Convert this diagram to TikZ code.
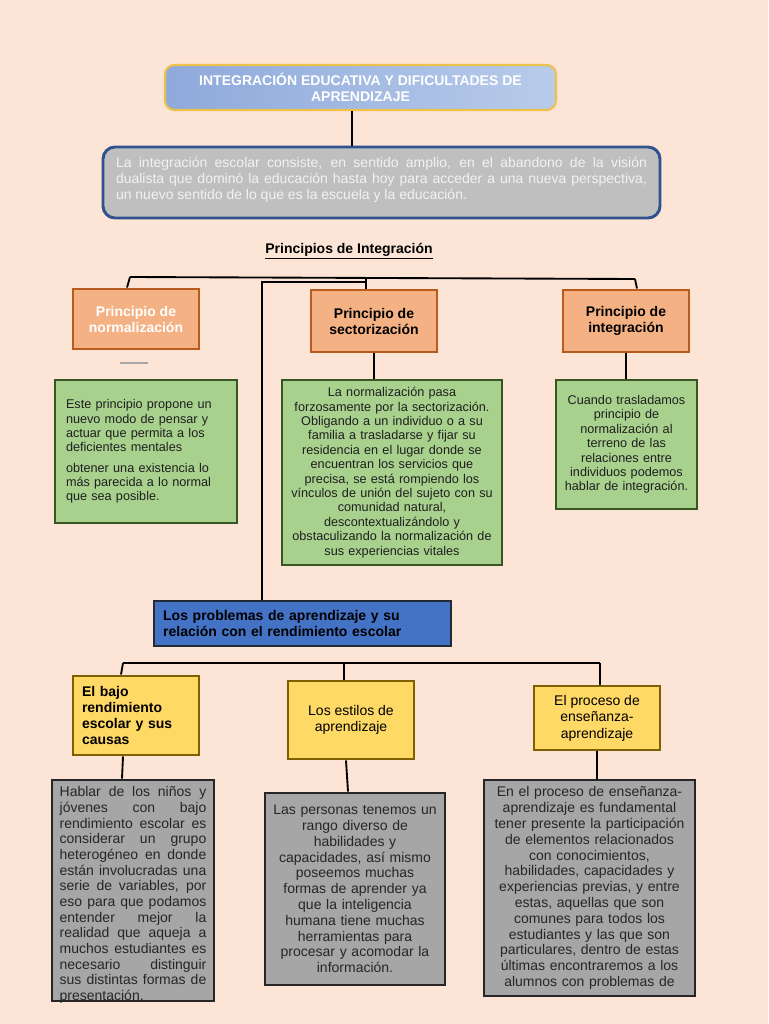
\documentclass[tikz,border=0pt]{standalone}
\usepackage{fontspec}
\setmainfont{Liberation Sans}
\usepackage{xcolor}
\usepackage{tikz}
\definecolor{fondo}{HTML}{FCE4D6}
\definecolor{azulA}{HTML}{8EA9DB}
\definecolor{azulB}{HTML}{B8CBEA}
\definecolor{oro}{HTML}{EDC24A}
\definecolor{introF}{HTML}{BFBFBF}
\definecolor{introB}{HTML}{2F528F}
\definecolor{naranjaF}{HTML}{F4B183}
\definecolor{naranjaB}{HTML}{B85B1C}
\definecolor{verdeF}{HTML}{A9D18E}
\definecolor{verdeB}{HTML}{375623}
\definecolor{azulF}{HTML}{4472C4}
\definecolor{azulBorde}{HTML}{222A35}
\definecolor{amarilloF}{HTML}{FFD966}
\definecolor{amarilloB}{HTML}{7F6000}
\definecolor{grisF}{HTML}{A6A6A6}
\definecolor{grisB}{HTML}{262626}
\hyphenpenalty=10000
\exhyphenpenalty=10000
\tikzset{
  caja/.style={draw, line width=2.2pt, inner sep=0pt},
  naranja/.style={caja, fill=naranjaF, draw=naranjaB, align=center,
    minimum width=94.5pt, font=\bfseries\fontsize{10.5}{12}\selectfont},
  verde/.style={caja, fill=verdeF, draw=verdeB, text=black!88,
    font=\fontsize{9.5}{10.8}\selectfont},
  amarilla/.style={caja, fill=amarilloF, draw=amarilloB, minimum width=94.5pt,
    font=\fontsize{10.5}{12}\selectfont},
  gris/.style={caja, fill=grisF, draw=grisB, text=black!85,
    font=\fontsize{10.5}{11.85}\selectfont},
  linea/.style={line width=1.4pt, black},
}
\begin{document}
\begin{tikzpicture}[x=0.75pt, y=-0.75pt]
  \fill[fondo] (0,0) rectangle (768,1024);
  \useasboundingbox (0,0) rectangle (768,1024);

  \node[caja, rounded corners=7pt, line width=1.6pt, draw=oro, left color=azulA, right color=azulB,
    minimum width=293.25pt, minimum height=33.75pt, text=white, align=center,
    font=\bfseries\fontsize{10.5}{12}\selectfont] (titulo) at (360.5,87.5)
    {INTEGRACIÓN EDUCATIVA Y DIFICULTADES DE\\APRENDIZAJE};
  \node[caja, rounded corners=9pt, fill=introF, draw=introB, minimum width=417.75pt,
    minimum height=53.25pt, text=white!95!black, text width=398.25pt, align=justify,
    font=\fontsize{10.5}{12}\selectfont] (intro) at (381.5,182.5)
    {La integración escolar consiste, en sentido amplio, en el abandono de la visión\linebreak
     dualista que dominó la educación hasta hoy para acceder a una nueva perspectiva,\linebreak
     un nuevo sentido de lo que es la escuela y la educación.\vspace{4pt}};
  \node[font=\bfseries\fontsize{10.5}{12}\selectfont] (principios) at (349,251)
    {\underline{Principios de Integración}};

  \node[naranja, minimum height=45pt, text=white] (norm) at (136,319) {Principio de\\normalización};
  \node[naranja, minimum height=46.5pt] (sect) at (374,321) {Principio de\\sectorización};
  \node[naranja, minimum height=46.5pt] (integ) at (626,321) {Principio de\\integración};
  \draw[gray!70, line width=1pt] (120,363) -- (148,363);

  \node[verde, minimum width=136.5pt, minimum height=107.25pt, text width=120pt, align=left,
    font=\fontsize{9.5}{10.7}\selectfont] (gnorm) at (146,451.5)
    {Este principio propone un\\nuevo modo de pensar y\\actuar que permita a los\\deficientes mentales\\[4.5pt]
     obtener una existencia lo\\más parecida a lo normal\\que sea posible.};
  \node[verde, minimum width=165pt, minimum height=138.75pt, text width=158pt, align=center] (gsect) at (392,472.5)
    {La normalización pasa\\forzosamente por la sectorización.\\Obligando a un individuo o a su\\
     familia a trasladarse y fijar su\\residencia en el lugar donde se\\encuentran los servicios que\\
     precisa, se está rompiendo los\\vínculos de unión del sujeto con su\\comunidad natural,\\
     descontextualizándolo y\\obstaculizando la normalización de\\sus experiencias vitales};
  \node[verde, minimum width=105.75pt, minimum height=96.75pt, text width=100pt, align=center] (ginteg) at (626.5,444.5)
    {Cuando trasladamos\\principio de\\normalización al\\terreno de las\\relaciones entre\\
     individuos podemos\\hablar de integración.};

  \node[caja, fill=azulF, draw=azulBorde, minimum width=222.75pt, minimum height=33.75pt,
    text width=209pt, align=left, font=\bfseries\fontsize{10.5}{12}\selectfont] (problemas) at (302.5,623.5)
    {Los problemas de aprendizaje y su\\relación con el rendimiento escolar};

  \node[amarilla, minimum height=59.25pt, text width=81pt, align=left, font=\bfseries\fontsize{10.5}{12}\selectfont]
    (bajo) at (136,715.5) {El bajo\\rendimiento\\escolar y sus\\causas};
  \node[amarilla, minimum height=58.5pt, align=center] (estilos) at (351,720) {Los estilos de\\aprendizaje};
  \node[amarilla, minimum height=48pt, align=center, font=\fontsize{10.5}{12.4}\selectfont]
    (proceso) at (597,718) {El proceso de\\enseñanza-\\aprendizaje};

  \node[gris, minimum width=121.5pt, minimum height=165.75pt] (gbajo) at (133,890.5) {};
  \begin{scope}
    \clip ([shift={(1.1pt,-1.1pt)}]gbajo.south west) rectangle ([shift={(-1.1pt,1.1pt)}]gbajo.north east);
    \node[inner sep=0pt, anchor=north, text=black!85, text width=110pt, align=justify,
      font=\fontsize{10.5}{11.75}\selectfont] (tbajo) at ([yshift=-6pt]gbajo.north)
      {Hablar de los niños y\linebreak jóvenes con bajo\linebreak rendimiento escolar es\linebreak
       considerar un grupo\linebreak heterogéneo en donde\linebreak están involucradas una\linebreak
       serie de variables, por\linebreak eso para que podamos\linebreak entender mejor la\linebreak
       realidad que aqueja a\linebreak muchos estudiantes es\linebreak necesario distinguir\linebreak
       sus distintas formas de\linebreak presentación.};
  \end{scope}
  \node[gris, minimum width=135pt, minimum height=144pt, text width=128pt, align=center] (gestilos) at (355,889)
    {Las personas tenemos un\\rango diverso de\\habilidades y\\capacidades, así mismo\\poseemos muchas\\
     formas de aprender ya\\que la inteligencia\\humana tiene muchas\\herramientas para\\
     procesar y acomodar la\\información.};
  \node[gris, minimum width=158.25pt, minimum height=162pt, text width=150pt, align=center] (gproceso) at (589.5,888)
    {En el proceso de enseñanza-\\aprendizaje es fundamental\\tener presente la participación\\
     de elementos relacionados\\con conocimientos,\\habilidades, capacidades y\\
     experiencias previas, y entre\\estas, aquellas que son\\comunes para todos los\\
     estudiantes y las que son\\particulares, dentro de estas\\últimas encontraremos a los\\
     alumnos con problemas de};

  % conectores
  \draw[linea] ([xshift=-6.4pt]titulo.south) -- ([xshift=-6.4pt]titulo.south |- intro.north);
  \coordinate (barraI) at (130,277);
  \coordinate (barraD) at (635,279);
  \coordinate (ramaS) at (366,279);
  \coordinate (codo) at (262,282);
  \draw[linea] (barraI) -- (barraD);
  \draw[linea] (barraI) -- ([xshift=-6.75pt]norm.north);
  \draw[linea] (barraD) -- ([xshift=8.25pt]integ.north);
  \draw[linea] (ramaS) -- (ramaS |- sect.north);
  \draw[linea] (ramaS |- codo) -- (codo) -- (codo |- problemas.north);
  \draw[linea] (sect.south) -- (sect.south |- gsect.north);
  \draw[linea] (integ.south) -- (integ.south |- ginteg.north);

  \coordinate (barra2I) at (123,663);
  \coordinate (barra2D) at (600,663);
  \draw[linea] (barra2I) -- (barra2D);
  \draw[linea] (barra2I) -- ([xshift=-11.25pt]bajo.north);
  \draw[linea] ([xshift=-5.25pt]estilos.north |- barra2I) -- ([xshift=-5.25pt]estilos.north);
  \draw[linea] (barra2D) -- ([xshift=2.25pt]proceso.north);
  \draw[linea] ([xshift=-9.75pt]bajo.south) -- ([xshift=-10.5pt]bajo.south |- gbajo.north);
  \draw[linea] ([xshift=-3.75pt]estilos.south) -- ([xshift=-2.25pt]estilos.south |- gestilos.north);
  \draw[linea] (proceso.south) -- (proceso.south |- gproceso.north);
\end{tikzpicture}
\end{document}
